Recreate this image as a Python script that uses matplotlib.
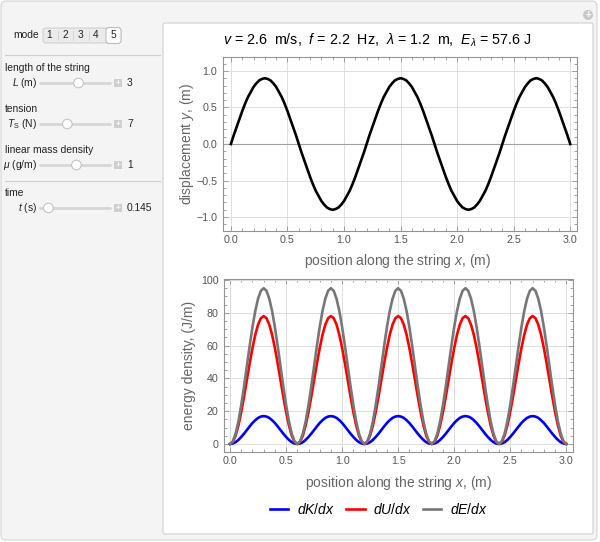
import matplotlib.pyplot as plt
import numpy as np
from matplotlib.patches import FancyBboxPatch, Circle, Rectangle
from matplotlib.lines import Line2D
from matplotlib.ticker import MultipleLocator

plt.rcParams['font.family'] = ['Liberation Sans', 'DejaVu Sans']
plt.rcParams['mathtext.fontset'] = 'custom'
plt.rcParams['mathtext.rm'] = 'Liberation Sans'
plt.rcParams['mathtext.it'] = 'Liberation Sans:italic'
plt.rcParams['mathtext.bf'] = 'Liberation Sans:bold'

# sample positions along the string (m)
x_m = np.linspace(0, 3.0, 121)

# string displacement y (m)
displacement = [
    0, .12, .23, .34, .45, .55, .64, .71, .78, .83, .87, .89, .90, .89, .87, .83, .78, .71, .64, .55, .45, .34, .23, .12,
    0, -.12, -.23, -.34, -.45, -.55, -.64, -.71, -.78, -.83, -.87, -.89, -.90, -.89, -.87, -.83, -.78, -.71, -.64, -.55, -.45, -.34, -.23, -.12,
    0, .12, .23, .34, .45, .55, .64, .71, .78, .83, .87, .89, .90, .89, .87, .83, .78, .71, .64, .55, .45, .34, .23, .12,
    0, -.12, -.23, -.34, -.45, -.55, -.64, -.71, -.78, -.83, -.87, -.89, -.90, -.89, -.87, -.83, -.78, -.71, -.64, -.55, -.45, -.34, -.23, -.12,
    0, .12, .23, .34, .45, .55, .64, .71, .78, .83, .87, .89, .90, .89, .87, .83, .78, .71, .64, .55, .45, .34, .23, .12,
    0,
]

# energy densities (J/m)
dK_dx = [
    0, 0.3, 1.1, 2.5, 4.3, 6.3, 8.5, 10.7, 12.8, 14.5, 15.9, 16.7, 17.0, 16.7, 15.9, 14.5, 12.8, 10.7, 8.5, 6.3, 4.3, 2.5, 1.1, 0.3,
    0, 0.3, 1.1, 2.5, 4.3, 6.3, 8.5, 10.7, 12.8, 14.5, 15.9, 16.7, 17.0, 16.7, 15.9, 14.5, 12.8, 10.7, 8.5, 6.3, 4.3, 2.5, 1.1, 0.3,
    0, 0.3, 1.1, 2.5, 4.3, 6.3, 8.5, 10.7, 12.8, 14.5, 15.9, 16.7, 17.0, 16.7, 15.9, 14.5, 12.8, 10.7, 8.5, 6.3, 4.3, 2.5, 1.1, 0.3,
    0, 0.3, 1.1, 2.5, 4.3, 6.3, 8.5, 10.7, 12.8, 14.5, 15.9, 16.7, 17.0, 16.7, 15.9, 14.5, 12.8, 10.7, 8.5, 6.3, 4.3, 2.5, 1.1, 0.3,
    0, 0.3, 1.1, 2.5, 4.3, 6.3, 8.5, 10.7, 12.8, 14.5, 15.9, 16.7, 17.0, 16.7, 15.9, 14.5, 12.8, 10.7, 8.5, 6.3, 4.3, 2.5, 1.1, 0.3,
    0,
]
dU_dx = [
    0, 1.3, 5.2, 11.4, 19.5, 28.9, 39.0, 49.1, 58.5, 66.6, 72.8, 76.7, 78.0, 76.7, 72.8, 66.6, 58.5, 49.1, 39.0, 28.9, 19.5, 11.4, 5.2, 1.3,
    0, 1.3, 5.2, 11.4, 19.5, 28.9, 39.0, 49.1, 58.5, 66.6, 72.8, 76.7, 78.0, 76.7, 72.8, 66.6, 58.5, 49.1, 39.0, 28.9, 19.5, 11.4, 5.2, 1.3,
    0, 1.3, 5.2, 11.4, 19.5, 28.9, 39.0, 49.1, 58.5, 66.6, 72.8, 76.7, 78.0, 76.7, 72.8, 66.6, 58.5, 49.1, 39.0, 28.9, 19.5, 11.4, 5.2, 1.3,
    0, 1.3, 5.2, 11.4, 19.5, 28.9, 39.0, 49.1, 58.5, 66.6, 72.8, 76.7, 78.0, 76.7, 72.8, 66.6, 58.5, 49.1, 39.0, 28.9, 19.5, 11.4, 5.2, 1.3,
    0, 1.3, 5.2, 11.4, 19.5, 28.9, 39.0, 49.1, 58.5, 66.6, 72.8, 76.7, 78.0, 76.7, 72.8, 66.6, 58.5, 49.1, 39.0, 28.9, 19.5, 11.4, 5.2, 1.3,
    0,
]
dE_dx = [
    0, 1.6, 6.4, 13.9, 23.8, 35.2, 47.5, 59.8, 71.3, 81.1, 88.6, 93.4, 95.0, 93.4, 88.6, 81.1, 71.3, 59.8, 47.5, 35.2, 23.8, 13.9, 6.4, 1.6,
    0, 1.6, 6.4, 13.9, 23.8, 35.2, 47.5, 59.8, 71.3, 81.1, 88.6, 93.4, 95.0, 93.4, 88.6, 81.1, 71.3, 59.8, 47.5, 35.2, 23.8, 13.9, 6.4, 1.6,
    0, 1.6, 6.4, 13.9, 23.8, 35.2, 47.5, 59.8, 71.3, 81.1, 88.6, 93.4, 95.0, 93.4, 88.6, 81.1, 71.3, 59.8, 47.5, 35.2, 23.8, 13.9, 6.4, 1.6,
    0, 1.6, 6.4, 13.9, 23.8, 35.2, 47.5, 59.8, 71.3, 81.1, 88.6, 93.4, 95.0, 93.4, 88.6, 81.1, 71.3, 59.8, 47.5, 35.2, 23.8, 13.9, 6.4, 1.6,
    0, 1.6, 6.4, 13.9, 23.8, 35.2, 47.5, 59.8, 71.3, 81.1, 88.6, 93.4, 95.0, 93.4, 88.6, 81.1, 71.3, 59.8, 47.5, 35.2, 23.8, 13.9, 6.4, 1.6,
    0,
]

title = r"$v$ = 2.6  m/s,  $f$ = 2.2  Hz,  $\lambda$ = 1.2  m,  $E_\lambda$ = 57.6 J"
mode_buttons = ['1', '2', '3', '4', '5']
selected_mode = '5'
# control sliders: (section title, label, knob position 0..1, value text)
sliders = [
    ('length of the string', r'$L$ (m)', 0.55, '3'),
    ('tension', r'$T_\mathrm{S}$ (N)', 0.39, '7'),
    ('linear mass density', r'$\mu$ (g/m)', 0.52, '1'),
    ('time', r'$t$ (s)', 0.12, '0.145'),
]

W, H = 600, 542
fig = plt.figure(figsize=(W / 100, H / 100), dpi=100)
fig.patch.set_facecolor('white')

# pixel-space background canvas for the panels and controls
bg = fig.add_axes([0, 0, 1, 1])
bg.set_xlim(0, W)
bg.set_ylim(H, 0)
bg.axis('off')

bg.add_patch(FancyBboxPatch((1, 1), 596, 539, boxstyle='round,pad=0,rounding_size=5',
                            fc='#f4f4f4', ec='#d4d4d4', lw=0.8))
bg.add_patch(FancyBboxPatch((163, 23), 430, 511, boxstyle='round,pad=0,rounding_size=2',
                            fc='white', ec='#cfcfcf', lw=0.8))
bg.add_patch(Circle((588, 15), 5, fc='#c8c8c8', ec='none'))
bg.text(588, 15.3, '+', color='white', fontsize=7, ha='center', va='center', fontweight='bold')

# mode selector
ctl = dict(fontsize=7.4, color='#222222', va='center')
bg.text(13, 35, 'mode', **ctl)
bg.add_patch(FancyBboxPatch((43, 28), 78, 15, boxstyle='round,pad=0,rounding_size=3',
                            fc='#ebebeb', ec='#cccccc', lw=0.7))
btn_x = [49, 65, 80, 96, 113]
for i, (bx, lab) in enumerate(zip(btn_x, mode_buttons)):
    if lab == selected_mode:
        bg.add_patch(FancyBboxPatch((bx - 7, 27.5), 15, 16, boxstyle='round,pad=0,rounding_size=3',
                                    fc='white', ec='#b8b8b8', lw=0.7))
    elif i > 0:
        bg.plot([bx - 7.5, bx - 7.5], [31, 40], color='#d0d0d0', lw=0.6)
    bg.text(bx, 35.5, lab, ha='center', **ctl)

for y in (55, 181):
    bg.plot([5, 160], [y, y], color='#cfcfcf', lw=0.8)

row_y = [(68, 83), (109, 124), (150, 165), (193, 208)]
for (sec, lab, pos, val), (ty, sy) in zip(sliders, row_y):
    bg.text(5, ty, sec, **ctl)
    bg.text(37, sy, lab, ha='right', **ctl)
    x0, x1 = 40, 110
    bg.plot([x0, x1], [sy, sy], color='#d6d6d6', lw=2, solid_capstyle='round')
    bg.add_patch(Circle((x0 + pos * (x1 - x0), sy), 4.8, fc='white', ec='#bdbdbd', lw=0.7, zorder=3))
    bg.add_patch(Rectangle((114, sy - 4), 8, 8, fc='#cfcfcf', ec='none'))
    bg.text(118, sy + 0.3, '+', color='white', fontsize=6, ha='center', va='center', fontweight='bold')
    bg.text(127, sy, val, **ctl)

bg.text(377, 40, title, fontsize=10.3, ha='center', va='center', color='black')


def px_axes(left, top, right, bottom):
    return fig.add_axes([left / W, 1 - bottom / H, (right - left) / W, (bottom - top) / H])


frame_c = '#939393'
label_c = '#666666'
tick_c = '#555555'


def style(ax):
    for s in ax.spines.values():
        s.set_color(frame_c)
        s.set_linewidth(0.8)
    ax.tick_params(which='both', direction='in', top=True, right=True, color=frame_c,
                   labelcolor=tick_c, labelsize=7.7, width=0.6)
    ax.tick_params(which='major', length=3.8)
    ax.tick_params(which='minor', length=2)
    ax.tick_params(axis='x', pad=3)
    ax.tick_params(axis='y', pad=4)
    ax.grid(True, which='major', color='#dedede', lw=0.7)
    ax.set_axisbelow(True)


# upper plot: displacement
ax1 = px_axes(223, 57, 577, 231)
style(ax1)
ax1.axhline(0, color='#a0a0a0', lw=0.8, zorder=1)
ax1.plot(x_m, displacement, color='black', lw=1.9, zorder=3)
ax1.set_xlim(-0.07, 3.06)
ax1.set_ylim(-1.19, 1.19)
ax1.xaxis.set_major_locator(MultipleLocator(0.5))
ax1.xaxis.set_minor_locator(MultipleLocator(0.1))
ax1.yaxis.set_major_locator(MultipleLocator(0.5))
ax1.yaxis.set_minor_locator(MultipleLocator(0.1))
ax1.xaxis.set_major_formatter(lambda v, p: f'{v:.1f}'.replace('-', '\u2212'))
ax1.yaxis.set_major_formatter(lambda v, p: f'{v:.1f}'.replace('-', '\u2212'))
ax1.set_xlabel(r'position along the string $x$, (m)', fontsize=10, color=label_c)
ax1.set_ylabel(r'displacement $y$, (m)', fontsize=10, color=label_c)
ax1.xaxis.set_label_coords(0.494, -0.12)
ax1.yaxis.set_label_coords(-0.075, 0.5)

# lower plot: energy densities
ax2 = px_axes(224, 279, 573, 452)
style(ax2)
ax2.plot(x_m, dK_dx, color='#0000ff', lw=1.9, zorder=3, label=r'$dK/dx$')
ax2.plot(x_m, dU_dx, color='#ff0000', lw=1.9, zorder=3, label=r'$dU/dx$')
ax2.plot(x_m, dE_dx, color='#777777', lw=1.9, zorder=3, label=r'$dE/dx$')
ax2.set_xlim(-0.054, 3.06)
ax2.set_ylim(-4.9, 100.6)
ax2.xaxis.set_major_locator(MultipleLocator(0.5))
ax2.xaxis.set_minor_locator(MultipleLocator(0.1))
ax2.yaxis.set_major_locator(MultipleLocator(20))
ax2.yaxis.set_minor_locator(MultipleLocator(5))
ax2.xaxis.set_major_formatter(lambda v, p: f'{v:.1f}')
ax2.set_xlabel(r'position along the string $x$, (m)', fontsize=10, color=label_c)
ax2.set_ylabel('energy density, (J/m)', fontsize=10, color=label_c)
ax2.xaxis.set_label_coords(0.50, -0.125)
ax2.yaxis.set_label_coords(-0.08, 0.5)

handles = [Line2D([], [], color=c, lw=1.9) for c in ('#0000ff', '#ff0000', '#777777')]
fig.legend(handles, [r'$dK/dx$', r'$dU/dx$', r'$dE/dx$'], loc='center',
           bbox_to_anchor=(379 / W, 1 - 509 / H), ncol=3, frameon=False, fontsize=10,
           handlelength=1.3, handletextpad=0.6, columnspacing=0.85)

fig.savefig('out.png', dpi=100, facecolor=fig.get_facecolor())
